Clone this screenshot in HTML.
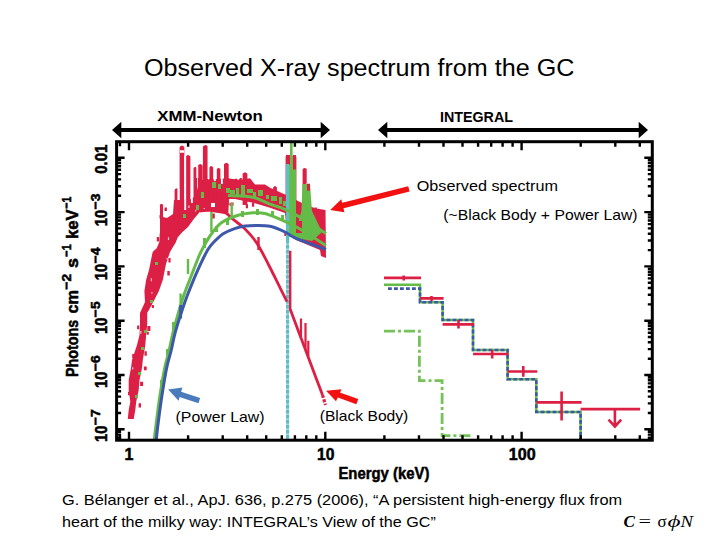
<!DOCTYPE html>
<html><head><meta charset="utf-8"><style>
html,body{margin:0;padding:0;background:#fff;width:720px;height:540px;overflow:hidden}
svg{display:block}
</style></head><body>
<svg width="720" height="540" viewBox="0 0 720 540">
<rect width="720" height="540" fill="#fff"/>
<text x="144" y="75.7" font-family="Liberation Sans" font-size="24.2" font-weight="normal" text-anchor="start" textLength="430.4" lengthAdjust="spacingAndGlyphs" >Observed X-ray spectrum from the GC</text>
<text x="157.2" y="121.3" font-family="Liberation Sans" font-size="14.6" font-weight="bold" text-anchor="start" textLength="105.6" lengthAdjust="spacingAndGlyphs" >XMM-Newton</text>
<text x="440" y="121.8" font-family="Liberation Sans" font-size="15" font-weight="bold" text-anchor="start" textLength="72.9" lengthAdjust="spacingAndGlyphs" >INTEGRAL</text>
<path d="M120 130H322" stroke="#000" stroke-width="4.2"/><path d="M112 130L121.3 121.8V138.2Z M330 130L320.7 121.8V138.2Z" fill="#000"/>
<path d="M386 130H640" stroke="#000" stroke-width="4.2"/><path d="M378 130L387.3 121.8V138.2Z M648 130L638.7 121.8V138.2Z" fill="#000"/>
<path d="M127.8 419.0 L128.7 410.0 L130.3 401.7 L128.7 390.0 L128.7 380.0 L131.0 368.0 L132.0 360.0 L137.0 345.0 L139.5 335.0 L140.0 324.0 L140.0 313.0 L145.0 302.0 L144.4 291.0 L146.1 280.0 L149.0 270.0 L152.0 255.0 L152.8 251.7 L156.7 248.3 L159.4 241.7 L160.0 231.7 L160.0 204.4 L163.0 204.4 L163.0 217.0 L167.0 218.0 L173.0 214.0 L174.0 200.0 L180.0 200.0 L193.0 199.0 L197.0 190.0 L200.0 180.0 L228.0 178.3 L240.0 180.0 L250.0 178.3 L255.0 184.4 L265.0 184.4 L270.0 187.8 L285.0 194.4 L287.0 195.0 L296.0 200.0 L303.0 203.6 L315.0 208.3 L325.5 210.0 L326.0 258.0 L321.0 256.0 L320.0 250.0 L296.0 240.0 L287.0 234.0 L285.0 213.0 L270.0 207.8 L255.0 203.3 L235.0 198.9 L229.0 199.0 L228.3 214.0 L225.0 214.0 L210.0 211.7 L200.0 211.7 L194.4 218.3 L187.8 227.2 L182.2 232.2 L177.8 237.2 L175.6 242.8 L172.2 248.3 L170.0 252.0 L166.0 264.0 L162.8 280.0 L158.9 291.0 L153.3 302.0 L147.2 313.0 L147.2 324.0 L146.1 335.6 L145.3 345.0 L142.8 360.0 L142.0 368.0 L139.5 380.0 L138.7 390.0 L136.2 401.7 L135.3 410.0 L133.7 419.0Z" fill="#dc1f44"/>
<path d="M146.7 331.7h2.1v3.0h-2.1zM151.8 305.1h2.1v2.9h-2.1zM239.6 178.1h2.3v4.2h-2.3zM159.5 214.9h3.1v3.7h-3.1zM167.3 270.9h2.5v4.5h-2.5zM159.7 233.9h2.8v2.5h-2.8zM191.8 198.1h2.2v4.4h-2.2zM314.2 207.6h2.6v4.1h-2.6zM156.8 237.1h2.4v4.5h-2.4zM285.9 194.2h2.7v3.2h-2.7zM230.6 202.5h3.0v3.2h-3.0zM284.3 232.1h2.8v3.9h-2.8zM132.2 353.9h2.3v4.1h-2.3zM137.1 325.5h2.1v3.8h-2.1zM252.0 202.7h2.2v4.0h-2.2zM234.7 178.7h2.5v3.1h-2.5zM212.1 213.5h2.7v5.0h-2.7zM147.3 326.1h3.1v4.9h-3.1zM138.6 403.3h2.4v4.3h-2.4zM168.4 258.1h2.2v4.3h-2.2zM128.0 391.7h2.7v3.5h-2.7zM164.5 207.5h2.4v3.5h-2.4zM144.5 351.2h2.3v4.5h-2.3zM224.6 175.7h3.1v3.6h-3.1zM245.8 204.2h2.2v4.0h-2.2zM229.4 203.1h2.8v2.7h-2.8zM239.0 179.2h2.2v4.1h-2.2zM140.1 381.7h3.0v4.2h-3.0zM192.1 197.4h2.1v4.5h-2.1zM290.0 195.1h3.1v3.1h-3.1zM143.9 366.4h2.8v3.8h-2.8z" fill="#dc1f44"/>
<path d="M156.4 295.8h1.2v2.5h-1.2zM195.0 210.0h1.2v1.6h-1.2zM132.1 367.2h1.2v2.3h-1.2zM167.9 237.2h1.2v2.9h-1.2zM151.3 291.9h1.2v1.7h-1.2zM166.5 257.9h1.2v1.6h-1.2zM150.8 278.3h1.2v2.9h-1.2zM188.3 205.5h1.2v2.6h-1.2zM203.7 208.0h1.2v2.3h-1.2zM140.2 331.0h1.2v2.8h-1.2z" fill="#fff" fill-opacity="0.75"/>
<path d="M159.6 205.5Q161.5 202.5 163.4 205.5V205H159.6ZM174.6 189.8Q176.4 186.8 178.20000000000002 189.8V205H174.6ZM179.6 147.1Q181.95 144.1 184.3 147.1V205H179.6ZM185.7 156.5Q188.05 153.5 190.4 156.5V205H185.7ZM193.5 168.2Q195.3 165.2 197.1 168.2V205H193.5ZM197.9 165.5Q200.25 162.5 202.6 165.5V205H197.9ZM202.9 146.5Q205.55 143.5 208.20000000000002 146.5V205H202.9ZM209.0 167.5Q211.10000000000002 164.5 213.20000000000002 167.5V205H209.0ZM216.79999999999998 169.3Q218.6 166.3 220.4 169.3V205H216.79999999999998ZM224.0 164.3Q226.35000000000002 161.3 228.70000000000002 164.3V205H224.0ZM242.6 173.7Q245.0 170.7 247.4 173.7V205H242.6ZM273.1 187.5Q275.0 184.5 276.9 187.5V205H273.1ZM285.6 156.3Q287.5 153.3 289.4 156.3V205H285.6ZM292.6 157.1Q294.5 154.1 296.4 157.1V205H292.6ZM302.6 169.5Q304.5 166.5 306.4 169.5V205H302.6ZM306.1 185.2Q308.0 182.2 309.9 185.2V205H306.1Z" fill="#dc1f44"/>
<path d="M185.2 156V210M191.9 155V203M178.4 189V200M208.5 146V179M214.8 168V181M221.9 166V184M197.3 166V178" stroke="#fff" stroke-width="1.9" fill="none"/>
<path d="M180 151.5h4" stroke="#fff" stroke-width="2.5" fill="none"/>
<path d="M211 203h4v4h-4z" fill="#fff"/>
<path d="M201 192h3v6h-3zM212 182h4v6h-4zM218 184h3v5h-3zM226 188h4v5h-4zM230 190h5v4h-5zM236 188h3v7h-3zM241 185h4v10h-4zM247 189h6v4h-6zM253 192h3v5h-3zM258 190h5v6h-5zM266 195h3v4h-3zM271 196h6v5h-6zM279 197h3v7h-3zM283 201h4v5h-4zM203 238h3v10h-3zM215 226h3v6h-3zM226 218h3v7h-3zM241 211h3v6h-3zM256 209h3v6h-3zM271 211h3v6h-3zM281 215h3v6h-3zM172 322h3v8h-3zM166 349h3v6h-3zM160 380h2.5v8h-2.5zM135 395h3v3h-3zM138 372h3v3h-3zM141 347h3v3h-3zM144 330h3v3h-3zM150 300h3v3h-3zM155 262h3v3h-3zM196 205h3v5h-3zM183 214h3v4h-3z" fill="#64bb48"/>
<path d="M289 156H296V237H289ZM290 141H292.6V160H290ZM302.5 184L310 184L312 211L322 232L312 241L296 238L296 231L301.4 211Z" fill="#64bb48"/>
<path d="M296 221h6v12h-6zM286 155h4v10h-4zM293 155h3v14.5h-3zM303.4 168.4h3.1v14.5h-3.1zM307 183.7h3v7h-3z" fill="#dc1f44"/>
<path d="M287.6 164V240" stroke="#62bcc4" stroke-width="3.4"/>
<path d="M287.6 240V439" stroke="#9fd6da" stroke-width="2.6"/>
<path d="M287.6 240V439" stroke="#62bcc4" stroke-width="3.2" stroke-dasharray="3.4 1.6"/>
<path d="M200.0 211.0 C202.5 210.8 210.8 209.2 215.0 209.5 C219.2 209.8 221.8 210.7 225.0 212.5 C228.2 214.3 230.9 217.6 234.1 220.2 C237.3 222.8 240.6 224.6 244.3 228.3 C248.0 232.0 252.4 236.5 256.5 242.6 C260.6 248.7 265.0 257.9 268.7 265.0 C272.4 272.1 275.8 279.3 278.9 285.4 C281.9 291.5 285.6 298.9 287.0 301.6" stroke="#dc1f44" stroke-width="2.8" fill="none"/>
<path d="M290.3 309.6L322.5 395" stroke="#dc1f44" stroke-width="2.8" fill="none"/>
<path d="M322.5 395L325.5 405" stroke="#dc1f44" stroke-width="3.2" stroke-dasharray="3 1.5" fill="none"/>
<path d="M301 318.5V337M305.5 323V349M308.3 340.7V356" stroke="#dc1f44" stroke-width="2.2" fill="none"/>
<path d="M290.2 250.7V310M258.5 237V250" stroke="#dc1f44" stroke-width="2.4"/>
<path d="M154.3 440.0 C154.5 437.9 154.8 434.4 155.7 427.5 C156.6 420.6 158.1 408.1 159.5 398.4 C160.9 388.7 162.8 377.3 164.4 369.2 C166.0 361.1 167.8 356.0 169.2 350.0 C170.6 344.0 171.4 339.2 172.8 333.3 C174.2 327.4 176.0 321.0 177.8 314.8 C179.6 308.6 181.4 302.5 183.5 296.3 C185.6 290.1 187.9 284.5 190.5 277.8 C193.1 271.1 196.8 261.3 199.0 256.0 C201.2 250.7 201.9 249.8 204.0 246.0 C206.1 242.2 208.8 237.4 211.7 233.5 C214.6 229.6 217.4 225.5 221.7 222.5 C225.9 219.5 232.4 217.1 237.2 215.5 C242.0 213.9 246.0 213.3 250.6 213.0 C255.2 212.7 259.1 212.0 265.0 213.5 C270.9 215.0 280.2 219.3 286.0 221.9 C291.8 224.5 293.3 225.1 300.0 229.0 C306.7 232.9 321.7 242.8 326.0 245.6" stroke="#64bb48" stroke-width="3" fill="none"/>
<path d="M228.0 195.5 C232.1 195.8 245.9 195.8 252.8 197.2 C259.7 198.6 264.0 201.9 269.4 203.9 C274.8 205.9 279.1 206.7 285.0 209.4 C290.9 212.1 298.2 216.0 305.0 220.0 C311.8 224.0 322.5 231.2 326.0 233.5" stroke="#64bb48" stroke-width="3" fill="none"/>
<path d="M156.3 440.0 C156.5 437.9 156.7 434.4 157.6 427.5 C158.5 420.6 160.0 408.1 161.5 398.4 C163.0 388.7 164.8 377.3 166.4 369.2 C168.0 361.1 169.9 356.0 171.3 350.0 C172.7 344.0 173.4 339.2 175.0 333.3 C176.6 327.4 178.6 321.0 180.6 314.8 C182.6 308.6 184.7 302.5 187.0 296.3 C189.3 290.1 191.8 284.0 194.4 277.8 C197.0 271.6 200.6 263.9 202.8 259.3 C205.0 254.8 205.8 253.1 207.4 250.5 C209.0 247.9 209.9 246.2 212.5 243.5 C215.1 240.8 219.2 236.4 222.8 234.0 C226.4 231.6 230.2 230.1 233.9 228.8 C237.6 227.5 241.3 226.7 245.0 226.1 C248.7 225.5 251.8 225.4 256.0 225.4 C260.2 225.4 265.2 225.2 270.0 226.3 C274.8 227.4 280.7 230.0 285.0 232.0 C289.3 234.0 289.2 235.4 296.0 238.3 C302.8 241.2 321.0 247.6 326.0 249.5" stroke="#3d58aa" stroke-width="3" fill="none"/>
<path d="M211.4 212V232M231.7 203V218M188 259V274M180.6 293.5V303.7" stroke="#64bb48" stroke-width="2.4"/>
<path d="M180.6 305V318.5" stroke="#3d58aa" stroke-width="3"/>
<path d="M384 284.75H420V302.3H442.6V320H473V350H507.6V379.3H536.3V412H580.6V440" stroke="#64bb48" stroke-width="2.5" fill="none"/>
<path d="M388 288.6H420V302.3H442.6V320H473V350H507.6V379.3H536.3V412H580.6V440" stroke="#3d58aa" stroke-width="2.6" stroke-dasharray="3.8 2.2" fill="none"/>
<path d="M384 277.9H421M420 298.4H443.6M442.6 324.4H474M473 354H508.6M507.6 371.5H537.3M536.3 402.4H581.6M403.7 275.5V280.5M431.5 296V301M458.5 320V328.5M492.2 350V358.5M523.3 366V376.8M561.6 391.6V420.5M580.6 409.1H640.1M614.9 409.1V426M608.5 419.6L614.9 426.5L621.2 419.6" stroke="#dc1f44" stroke-width="2.6" fill="none"/>
<path d="M384 331.1H419.4V380.6H442.1V435.7H472" stroke="#76c25a" stroke-width="2.8" stroke-dasharray="11 3 3 3" fill="none"/>
<path d="M129.0 440.2v-8.5M129.0 141.7v8.5M188.1 440.2v-5M188.1 141.7v5M222.7 440.2v-5M222.7 141.7v5M247.2 440.2v-5M247.2 141.7v5M266.2 440.2v-5M266.2 141.7v5M281.8 440.2v-5M281.8 141.7v5M294.9 440.2v-5M294.9 141.7v5M306.3 440.2v-5M306.3 141.7v5M316.3 440.2v-5M316.3 141.7v5M325.3 440.2v-8.5M325.3 141.7v8.5M384.4 440.2v-5M384.4 141.7v5M419.0 440.2v-5M419.0 141.7v5M443.5 440.2v-5M443.5 141.7v5M462.5 440.2v-5M462.5 141.7v5M478.1 440.2v-5M478.1 141.7v5M491.2 440.2v-5M491.2 141.7v5M502.6 440.2v-5M502.6 141.7v5M512.6 440.2v-5M512.6 141.7v5M521.6 440.2v-8.5M521.6 141.7v8.5M580.7 440.2v-5M580.7 141.7v5M615.3 440.2v-5M615.3 141.7v5M639.8 440.2v-5M639.8 141.7v5M120.0 440.2v-5M120.0 141.7v4.5M116.6 437.7h4.5M652.3 437.7h-4.5M116.6 434.6h4.5M652.3 434.6h-4.5M116.6 431.8h4.5M652.3 431.8h-4.5M116.6 429.3h8M652.3 429.3h-8M116.6 413.0h4.5M652.3 413.0h-4.5M116.6 403.4h4.5M652.3 403.4h-4.5M116.6 396.6h4.5M652.3 396.6h-4.5M116.6 391.3h4.5M652.3 391.3h-4.5M116.6 387.0h4.5M652.3 387.0h-4.5M116.6 383.4h4.5M652.3 383.4h-4.5M116.6 380.3h4.5M652.3 380.3h-4.5M116.6 377.5h4.5M652.3 377.5h-4.5M116.6 375.0h8M652.3 375.0h-8M116.6 358.7h4.5M652.3 358.7h-4.5M116.6 349.1h4.5M652.3 349.1h-4.5M116.6 342.3h4.5M652.3 342.3h-4.5M116.6 337.0h4.5M652.3 337.0h-4.5M116.6 332.7h4.5M652.3 332.7h-4.5M116.6 329.1h4.5M652.3 329.1h-4.5M116.6 326.0h4.5M652.3 326.0h-4.5M116.6 323.2h4.5M652.3 323.2h-4.5M116.6 320.7h8M652.3 320.7h-8M116.6 304.4h4.5M652.3 304.4h-4.5M116.6 294.8h4.5M652.3 294.8h-4.5M116.6 288.0h4.5M652.3 288.0h-4.5M116.6 282.7h4.5M652.3 282.7h-4.5M116.6 278.4h4.5M652.3 278.4h-4.5M116.6 274.8h4.5M652.3 274.8h-4.5M116.6 271.7h4.5M652.3 271.7h-4.5M116.6 268.9h4.5M652.3 268.9h-4.5M116.6 266.4h8M652.3 266.4h-8M116.6 250.1h4.5M652.3 250.1h-4.5M116.6 240.5h4.5M652.3 240.5h-4.5M116.6 233.7h4.5M652.3 233.7h-4.5M116.6 228.4h4.5M652.3 228.4h-4.5M116.6 224.1h4.5M652.3 224.1h-4.5M116.6 220.5h4.5M652.3 220.5h-4.5M116.6 217.4h4.5M652.3 217.4h-4.5M116.6 214.6h4.5M652.3 214.6h-4.5M116.6 212.1h8M652.3 212.1h-8M116.6 195.8h4.5M652.3 195.8h-4.5M116.6 186.2h4.5M652.3 186.2h-4.5M116.6 179.4h4.5M652.3 179.4h-4.5M116.6 174.1h4.5M652.3 174.1h-4.5M116.6 169.8h4.5M652.3 169.8h-4.5M116.6 166.2h4.5M652.3 166.2h-4.5M116.6 163.1h4.5M652.3 163.1h-4.5M116.6 160.3h4.5M652.3 160.3h-4.5M116.6 157.8h8M652.3 157.8h-8" stroke="#000" stroke-width="2.4" fill="none"/>
<rect x="116.6" y="141.7" width="535.6999999999999" height="298.5" fill="none" stroke="#000" stroke-width="3"/>
<text x="129" y="459.7" font-family="Liberation Sans" font-size="16" font-weight="bold" text-anchor="middle" stroke="#000" stroke-width="0.5">1</text>
<text x="317" y="459.7" font-family="Liberation Sans" font-size="16" font-weight="bold" text-anchor="start" textLength="17.4" lengthAdjust="spacingAndGlyphs" stroke="#000" stroke-width="0.5">10</text>
<text x="508.8" y="460" font-family="Liberation Sans" font-size="16" font-weight="bold" text-anchor="start" textLength="26.8" lengthAdjust="spacingAndGlyphs" stroke="#000" stroke-width="0.5">100</text>
<text x="338.4" y="478.7" font-family="Liberation Sans" font-size="16.5" font-weight="bold" text-anchor="start" textLength="91" lengthAdjust="spacingAndGlyphs" stroke="#000" stroke-width="0.5">Energy (keV)</text>
<g transform="rotate(-90)"><text x="-173.8" y="107.2" font-family="Liberation Sans" font-weight="bold" font-size="17" textLength="29.2" lengthAdjust="spacingAndGlyphs" stroke="#000" stroke-width="0.55">0.01</text><text x="-226.2" y="107.2" font-family="Liberation Sans" font-weight="bold" font-size="17" textLength="16.4" lengthAdjust="spacingAndGlyphs" stroke="#000" stroke-width="0.55">10</text><text x="-209.29999999999998" y="99.8" font-family="Liberation Sans" font-weight="bold" font-size="13.5" textLength="15.8" lengthAdjust="spacingAndGlyphs" stroke="#000" stroke-width="0.55">&#8722;3</text><text x="-280.13" y="107.2" font-family="Liberation Sans" font-weight="bold" font-size="17" textLength="16.4" lengthAdjust="spacingAndGlyphs" stroke="#000" stroke-width="0.55">10</text><text x="-263.23" y="99.8" font-family="Liberation Sans" font-weight="bold" font-size="13.5" textLength="15.8" lengthAdjust="spacingAndGlyphs" stroke="#000" stroke-width="0.55">&#8722;4</text><text x="-334.06" y="107.2" font-family="Liberation Sans" font-weight="bold" font-size="17" textLength="16.4" lengthAdjust="spacingAndGlyphs" stroke="#000" stroke-width="0.55">10</text><text x="-317.16" y="99.8" font-family="Liberation Sans" font-weight="bold" font-size="13.5" textLength="15.8" lengthAdjust="spacingAndGlyphs" stroke="#000" stroke-width="0.55">&#8722;5</text><text x="-387.99" y="107.2" font-family="Liberation Sans" font-weight="bold" font-size="17" textLength="16.4" lengthAdjust="spacingAndGlyphs" stroke="#000" stroke-width="0.55">10</text><text x="-371.09000000000003" y="99.8" font-family="Liberation Sans" font-weight="bold" font-size="13.5" textLength="15.8" lengthAdjust="spacingAndGlyphs" stroke="#000" stroke-width="0.55">&#8722;6</text><text x="-441.91999999999996" y="107.2" font-family="Liberation Sans" font-weight="bold" font-size="17" textLength="16.4" lengthAdjust="spacingAndGlyphs" stroke="#000" stroke-width="0.55">10</text><text x="-425.02" y="99.8" font-family="Liberation Sans" font-weight="bold" font-size="13.5" textLength="15.8" lengthAdjust="spacingAndGlyphs" stroke="#000" stroke-width="0.55">&#8722;7</text><text x="-377" y="78" font-family="Liberation Sans" font-weight="bold" font-size="17" textLength="57.2" lengthAdjust="spacingAndGlyphs" stroke="#000" stroke-width="0.55">Photons</text><text x="-313.4" y="78" font-family="Liberation Sans" font-weight="bold" font-size="17" textLength="23.4" lengthAdjust="spacingAndGlyphs" stroke="#000" stroke-width="0.55">cm</text><text x="-289.4" y="70.6" font-family="Liberation Sans" font-weight="bold" font-size="13.5" textLength="15.6" lengthAdjust="spacingAndGlyphs" stroke="#000" stroke-width="0.55">&#8722;2</text><text x="-268" y="78" font-family="Liberation Sans" font-weight="bold" font-size="17" textLength="10" lengthAdjust="spacingAndGlyphs" stroke="#000" stroke-width="0.55">s</text><text x="-256.7" y="70.6" font-family="Liberation Sans" font-weight="bold" font-size="13.5" textLength="12.7" lengthAdjust="spacingAndGlyphs" stroke="#000" stroke-width="0.55">&#8722;1</text><text x="-238.9" y="78" font-family="Liberation Sans" font-weight="bold" font-size="17" textLength="29.6" lengthAdjust="spacingAndGlyphs" stroke="#000" stroke-width="0.55">keV</text><text x="-208.5" y="70.6" font-family="Liberation Sans" font-weight="bold" font-size="13.5" textLength="11.8" lengthAdjust="spacingAndGlyphs" stroke="#000" stroke-width="0.55">&#8722;1</text></g>
<text x="416.7" y="191" font-family="Liberation Sans" font-size="14.6" font-weight="normal" text-anchor="start" textLength="141.3" lengthAdjust="spacingAndGlyphs" >Observed spectrum</text>
<text x="443.3" y="220.3" font-family="Liberation Sans" font-size="14.6" font-weight="normal" text-anchor="start" textLength="194.2" lengthAdjust="spacingAndGlyphs" >(~Black Body + Power Law)</text>
<text x="175.6" y="421.6" font-family="Liberation Sans" font-size="15" font-weight="normal" text-anchor="start" textLength="89" lengthAdjust="spacingAndGlyphs" >(Power Law)</text>
<text x="319.7" y="421.3" font-family="Liberation Sans" font-size="14.2" font-weight="normal" text-anchor="start" textLength="88.6" lengthAdjust="spacingAndGlyphs" >(Black Body)</text>
<path d="M408.9 188.9L342 205.8" stroke="#f21010" stroke-width="5.6"/>
<path d="M330.2 210L341.3 199.3L344.4 212.3Z" fill="#f21010"/>
<path d="M199.3 400.6L178 393.6" stroke="#4a7cbd" stroke-width="5.4"/>
<path d="M168.1 389.6L182.4 387.5L178.6 400.7Z" fill="#4a7cbd"/>
<path d="M357.3 401.6L336 394" stroke="#f21010" stroke-width="5.4"/>
<path d="M326.1 390.8L341.6 389.3L336 401.2Z" fill="#f21010"/>
<text x="62" y="504.7" font-family="Liberation Sans" font-size="14.6" font-weight="normal" text-anchor="start" textLength="560.2" lengthAdjust="spacingAndGlyphs" >G. Bélanger et al., ApJ. 636, p.275 (2006), “A persistent high-energy flux from</text>
<text x="62" y="526.75" font-family="Liberation Sans" font-size="14.6" font-weight="normal" text-anchor="start" textLength="373.8" lengthAdjust="spacingAndGlyphs" >heart of the milky way: INTEGRAL’s View of the GC”</text>
<g font-family="Liberation Serif" font-size="17"><text x="623.5" y="526.8" font-weight="bold" font-style="italic">C</text><text x="638.5" y="526.8" textLength="12.5" lengthAdjust="spacingAndGlyphs">=</text><text x="657.5" y="526.8">σ</text><text x="667.5" y="526.8" font-style="italic" textLength="13" lengthAdjust="spacingAndGlyphs">ϕ</text><text x="680.5" y="526.8" font-style="italic" textLength="12.5" lengthAdjust="spacingAndGlyphs">N</text></g>
</svg></body></html>
